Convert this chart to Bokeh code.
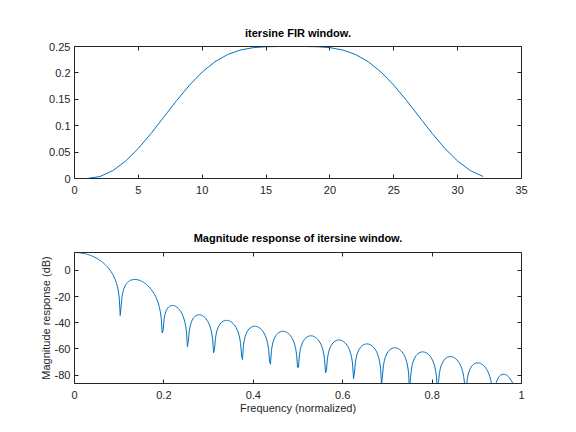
import numpy as np
from bokeh.plotting import figure
from bokeh.models import LinearAxis, FixedTicker, CustomJSTickFormatter, Range1d, ColumnDataSource
from bokeh.layouts import column
from bokeh.embed import file_html
from bokeh.resources import INLINE

# ---- data ----
sample_index = list(range(1, 33))
window_values = [0.0, 0.00377266, 0.01493732, 0.03299433, 0.05700358, 0.08550232, 0.11651655, 0.14772512,
                 0.17677670, 0.20168612, 0.22118747, 0.23492414, 0.24341444, 0.24781318, 0.24955335, 0.24997153,
                 0.25, 0.24997153, 0.24955335, 0.24781318, 0.24341444, 0.23492414, 0.22118747, 0.20168612,
                 0.17677670, 0.14772512, 0.11651655, 0.08550232, 0.05700358, 0.03299433, 0.01493732, 0.00377266]

top_x_ticks = [0, 5, 10, 15, 20, 25, 30, 35]
top_y_ticks = [0, 0.05, 0.1, 0.15, 0.2, 0.25]
bottom_x_ticks = [0, 0.2, 0.4, 0.6, 0.8, 1]
bottom_y_ticks = [-80, -60, -40, -20, 0]

title_top = "itersine FIR window."
title_bottom = "Magnitude response of itersine window."
xlabel_bottom = "Frequency (normalized)"
ylabel_bottom = "Magnitude response (dB)"

dynamic_range_db = 100

# magnitude response of the window (DTFT on a grid over 0..Nyquist)
n_freq = 480
freq = np.linspace(0, 1, n_freq)
taps = np.arange(len(window_values))
H = np.exp(-1j * np.pi * np.outer(freq, taps)) @ np.array(window_values)
mag_db = 20 * np.log10(np.maximum(np.abs(H), 1e-12))
db_max = float(mag_db.max())

LINE = "#0072BD"
AXC = "#262626"
FONT = "Liberation Sans"


def style_axis(ax, ticks, show_labels=True, standoff=5):
    ax.ticker = FixedTicker(ticks=ticks)
    ax.formatter = CustomJSTickFormatter(code="return tick.toString();")
    ax.axis_line_color = AXC
    ax.axis_line_width = 1
    ax.major_tick_line_color = AXC
    ax.major_tick_in = 4
    ax.major_tick_out = 0
    ax.minor_tick_in = 0
    ax.minor_tick_out = 0
    ax.major_label_text_font = FONT
    ax.axis_label_text_font = FONT
    ax.axis_label_text_font_style = "normal"
    ax.axis_label_text_font_size = "11px"
    ax.axis_label_text_color = AXC
    if show_labels:
        ax.major_label_text_color = AXC
        ax.major_label_text_font_size = "11px"
        ax.major_label_standoff = standoff
    else:
        ax.major_label_text_color = None
        ax.major_label_text_font_size = "0px"
        ax.major_label_standoff = 0


def make_fig(height, border_top, border_bottom, xr, yr, xt, yt, title, title_standoff):
    p = figure(width=568, height=height, output_backend="svg", toolbar_location=None,
               x_range=Range1d(*xr), y_range=Range1d(*yr),
               x_axis_location=None, y_axis_location=None,
               min_border_left=74, min_border_right=47,
               min_border_top=border_top, min_border_bottom=border_bottom)
    p.title.text = title
    p.title.align = "center"
    p.title.text_font = FONT
    p.title.text_font_size = "11px"
    p.title.text_font_style = "bold"
    p.title.text_color = "#000000"
    p.title.standoff = title_standoff
    p.xgrid.visible = False
    p.ygrid.visible = False
    p.outline_line_color = None
    p.background_fill_color = "white"
    p.border_fill_color = "white"
    ax_b = LinearAxis()
    style_axis(ax_b, xt, True, 7)
    p.add_layout(ax_b, "below")
    ax_l = LinearAxis()
    style_axis(ax_l, yt, True, 4)
    p.add_layout(ax_l, "left")
    ax_t = LinearAxis()
    style_axis(ax_t, xt, False)
    p.add_layout(ax_t, "above")
    ax_r = LinearAxis()
    style_axis(ax_r, yt, False)
    p.add_layout(ax_r, "right")
    return p, ax_b, ax_l


p1, p1_xax, p1_yax = make_fig(215, 46, 37, (0, 35), (0, 0.25), top_x_ticks, top_y_ticks, title_top, 15)
src1 = ColumnDataSource(dict(x=sample_index, y=window_values))
p1.line("x", "y", source=src1, line_color=LINE, line_width=1)

p2, p2_xax, p2_yax = make_fig(209, 37, 41, (0, 1), (db_max - dynamic_range_db, db_max),
                              bottom_x_ticks, bottom_y_ticks, title_bottom, 18)
src2 = ColumnDataSource(dict(x=freq, y=mag_db))
p2.line("x", "y", source=src2, line_color=LINE, line_width=1)
p2_xax.axis_label = xlabel_bottom
p2_yax.axis_label = ylabel_bottom
p2_xax.axis_label_standoff = 0
p2_yax.axis_label_standoff = 0

layout = column(p1, p2)
open("out.html", "w").write(file_html(layout, INLINE))
